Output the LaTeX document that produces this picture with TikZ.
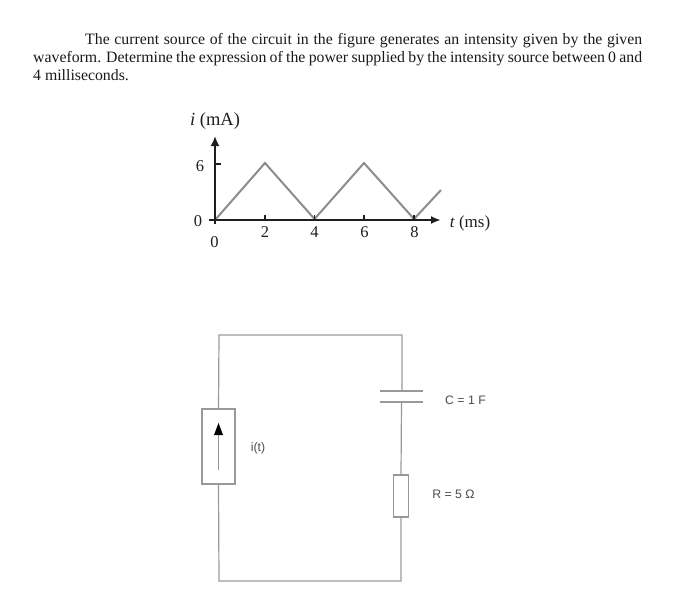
\documentclass[tikz,border=0pt]{standalone}
\usepackage{fontspec}
\setmainfont{Liberation Serif}
\newfontfamily\arialfont{Liberation Sans}
\usetikzlibrary{arrows.meta}
\definecolor{wirec}{gray}{0.6}
\definecolor{wave}{gray}{0.55}
\definecolor{axisc}{gray}{0.12}
\definecolor{textc}{gray}{0.1}
\definecolor{ctext}{gray}{0.3}
\tikzset{
  para/.style={anchor=base west,inner sep=0pt,text=textc,font=\fontsize{15.8}{18}\selectfont},
  graphlab/.style={inner sep=0pt,text=axisc,font=\fontsize{16.5}{18}\selectfont},
  biglab/.style={inner sep=0pt,text=axisc,font=\fontsize{18.5}{20}\selectfont},
  axisline/.style={draw=axisc,line width=2pt},
  tickline/.style={draw=axisc,line width=1.4pt},
  waveline/.style={draw=wave,line width=2pt,line join=miter},
  wire/.style={draw=wirec,line width=1.2pt},
  part/.style={draw=wirec,line width=1.1pt,fill=white,inner sep=0pt,minimum width=#1},
  circlab/.style={inner sep=0pt,text=ctext,font=\arialfont\fontsize{12.3}{14}\selectfont},
}
\begin{document}
\begin{tikzpicture}[x=1pt,y=-1pt]
\useasboundingbox (0,0) rectangle (700,600);
% paragraph
\node[para] (l1) at (85,44.7) {\makebox[557pt][s]{The current source of the circuit in the figure generates an intensity given by the given}};
\node[para] (l2) at (33,62.7) {\makebox[609pt][s]{waveform. Determine the expression of the power supplied by the intensity source between 0 and}};
\node[para] (l3) at (33,80.7) {4 milliseconds.};
% waveform
\coordinate (o) at (215,220);
\coordinate (ytop) at (215,136);
\coordinate (ybot) at (215,224);
\coordinate (xleft) at (209,220);
\coordinate (xright) at (441,220);
\draw[waveline] (o) -- (265,163) -- (314.5,219) -- (364,163) -- (414,219) -- (441,190);
\draw[axisline,-{Latex[length=10pt,width=9pt]}] (ybot) -- (ytop);
\draw[axisline,-{Latex[length=10pt,width=8pt]}] (xleft) -- (xright);
\coordinate (t6) at (221,164);
\draw[tickline] (215,164) -- (t6);
\foreach \tx in {265,314.5,364,414}{\draw[tickline] (\tx,215) -- (\tx,220);}
\node[biglab] (il) at (215,121) {\textit{i} (mA)};
\node[graphlab] (y6) at (200,166) {6};
\node[graphlab] (y0) at (198,221) {0};
\node[graphlab] (x0) at (214.5,242) {0};
\node[graphlab] (x2) at (265,232) {2};
\node[graphlab] (x4) at (314.5,232) {4};
\node[graphlab] (x6) at (364.5,232) {6};
\node[graphlab] (x8) at (414.5,232) {8};
\node[graphlab,font=\fontsize{17}{18}\selectfont] (tl) at (470,223.5) {\textit{t} (ms)};
% circuit
\coordinate (tl1) at (219,335);
\coordinate (tr1) at (402,335);
\coordinate (bl1) at (219,581);
\coordinate (br1) at (401,581);
\node[part=33pt,minimum height=75pt] (src) at (218.5,446.5) {};
\node[part=15pt,minimum height=42pt] (res) at (401,496) {};
\coordinate (c1l) at (380,391);
\coordinate (c1r) at (423,391);
\coordinate (c2l) at (380,402);
\coordinate (c2r) at (423,402);
\coordinate (c1m) at (402,391);
\coordinate (c2m) at (401.5,402);
\draw[wire] (src.north) -- (tl1) -- (tr1) -- (c1m);
\draw[wire] (c2m) -- (res.north);
\draw[wire] (res.south) -- (br1) -- (bl1) -- (src.south);
\draw[wire] (c1l) -- (c1r);
\draw[wire] (c2l) -- (c2r);
\coordinate (as) at (218.5,470);
\coordinate (ae) at (218.5,423);
\draw[draw=wirec,line width=1pt] (as) -- (218.5,432);
\fill[black] (ae) -- (223,435) -- (214,435) -- cycle;
\node[circlab] (it) at (258,448) {i(t)};
\node[circlab] (cl) at (465.5,400) {C = 1 F};
\node[circlab] (rl) at (453.5,494.5) {R = 5 Ω};
\end{tikzpicture}
\end{document}
